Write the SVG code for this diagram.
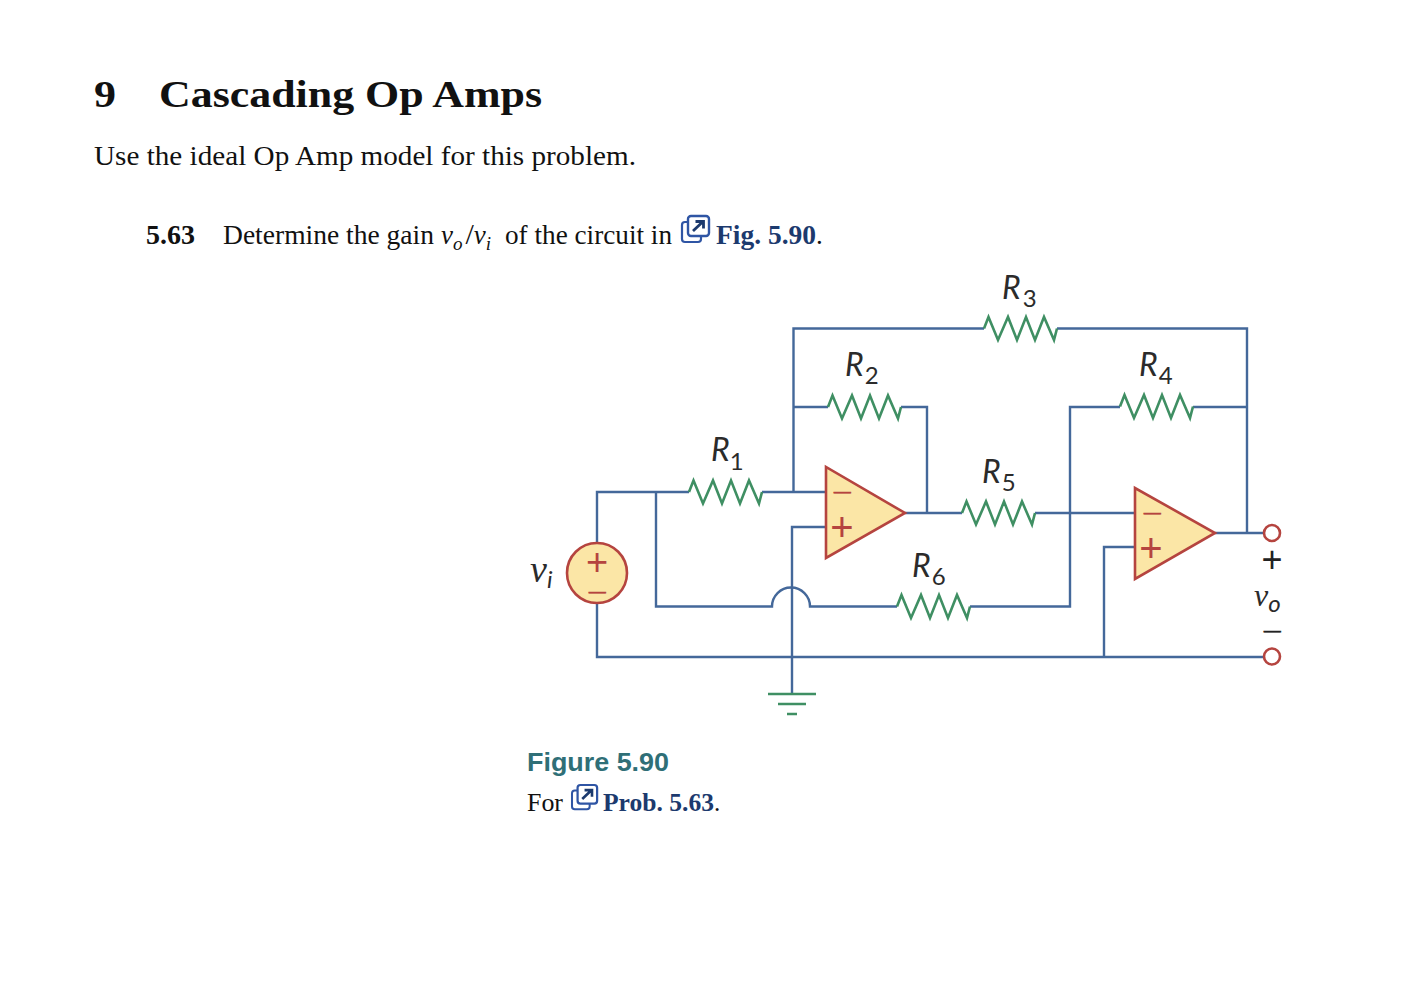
<svg xmlns="http://www.w3.org/2000/svg" width="1420" height="986" viewBox="0 0 1420 986">
<style>
.w{fill:none;stroke:#44689a;stroke-width:2.4;stroke-linejoin:miter}
.r{fill:none;stroke:#3f8f63;stroke-width:2.6;stroke-linejoin:miter}
.g{fill:none;stroke:#3f8f63;stroke-width:2.6}
.a{fill:#fbe6a6;stroke:#b5443f;stroke-width:2.6;stroke-linejoin:miter}
.t{fill:#fff;stroke:#b5443f;stroke-width:2.6}
.s{font-family:"Liberation Serif",serif;fill:#111}
.lm{font-size:27px}
.b{font-weight:700}
.n{fill:#1c3a6e}
.lab{font-family:Lato,"Open Sans",sans-serif;font-style:italic;font-size:32px;fill:#2b2b2b}
.sub{font-family:Lato,"Open Sans",sans-serif;font-style:normal;font-size:24px;fill:#2b2b2b}
.v{font-family:"Liberation Serif",serif;font-style:italic;font-size:32px;fill:#2b2b2b}
.vs{font-family:Lato,"Open Sans",sans-serif;font-style:italic;font-size:24px}
.sy{font-family:"Liberation Sans",sans-serif;text-anchor:middle}
.rs{fill:#b5443f}
.bk{fill:#222}
.mn{font-size:16px;stroke-width:.5px}
.mn.rs{stroke:#b5443f}
.mn.bk{stroke:#222}
.ic{fill:none;stroke:#2f55a4;stroke-width:2.2}
</style>
<defs>
<path id="res" class="r" d="M0,0 L4.500,-11.500 L14,11.500 L24,-11.500 L33,11.500 L42,-11.500 L51,11.500 L60,-11.500 L70,11.500 L73,0"/>
<g id="icon">
<rect class="ic" x="0" y="6" width="19" height="20" rx="3"/>
<rect x="6" y="0" width="21" height="20" rx="3" fill="#fff" stroke="#2f55a4" stroke-width="2.400"/>
<path d="M11,15 L20,6.500 M13.500,5.500 L21.500,5.500 L21.500,12.500" fill="none" stroke="#1c3a6e" stroke-width="2.800"/>
</g>
</defs>
<rect width="1420" height="986" fill="#fff"/>

<g id="heading">
<text class="s b" x="94" y="107" font-size="38" textLength="22" lengthAdjust="spacingAndGlyphs">9</text>
<text class="s b" x="159" y="107" font-size="38" textLength="383" lengthAdjust="spacingAndGlyphs">Cascading Op Amps</text>
<text class="s lm" x="94" y="165" textLength="542" lengthAdjust="spacingAndGlyphs">Use the ideal Op Amp model for this problem.</text>
</g>
<g id="problem">
<text class="s lm b" x="146" y="244" textLength="49" lengthAdjust="spacingAndGlyphs">5.63</text>
<text class="s lm" x="223" y="244" textLength="211" lengthAdjust="spacingAndGlyphs">Determine the gain</text>
<text class="s lm" x="441" y="244" font-style="italic">v<tspan font-size="19" dy="6">o</tspan><tspan dx="3" dy="-6" font-size="30" font-style="normal">/</tspan>v<tspan font-size="19" dy="6">i</tspan></text>
<text class="s lm" x="505" y="244" textLength="167" lengthAdjust="spacingAndGlyphs">of the circuit in</text>
<use href="#icon" x="682" y="216"/>
<text class="s lm b n" x="716" y="244" textLength="100" lengthAdjust="spacingAndGlyphs">Fig. 5.90</text>
<text class="s lm" x="816" y="244">.</text>
</g>

<g id="connectors">
<path class="w" d="M597,543 V492 H689"/>
<path class="w" d="M762,492 H826"/>
<path class="w" d="M656,492 V606.500 H772 A19,19 0 0 1 810,606.500 H897"/>
<path class="w" d="M793.500,492 V328.500 H984"/>
<path class="w" d="M1057,328.500 H1247 V533"/>
<path class="w" d="M793.500,407 H828"/>
<path class="w" d="M901,407 H927 V513"/>
<path class="w" d="M905,513 H962"/>
<path class="w" d="M1035,513 H1135"/>
<path class="w" d="M1120,407 H1070 V606.500 H970"/>
<path class="w" d="M1193,407 H1247"/>
<path class="w" d="M1215,533 H1264"/>
<path class="w" d="M597,603 V657 H1264"/>
<path class="w" d="M826,527 H792 V694"/>
<path class="w" d="M1135,547 H1104 V657"/>
</g>

<g id="R1"><use href="#res" x="689" y="492"/><text class="lab" x="711" y="461">R<tspan class="sub" dx="0" dy="9">1</tspan></text></g>
<g id="R2"><use href="#res" x="828" y="407"/><text class="lab" x="845" y="376">R<tspan class="sub" dx="1" dy="8">2</tspan></text></g>
<g id="R3"><use href="#res" x="984" y="328.500"/><text class="lab" x="1002" y="299">R<tspan class="sub" dx="2" dy="8">3</tspan></text></g>
<g id="R4"><use href="#res" x="1120" y="406.500"/><text class="lab" x="1139" y="376">R<tspan class="sub" dx="1" dy="8">4</tspan></text></g>
<g id="R5"><use href="#res" x="962" y="513"/><text class="lab" x="982" y="483">R<tspan class="sub" dx="1" dy="8">5</tspan></text></g>
<g id="R6"><use href="#res" x="897" y="606.500"/><text class="lab" x="912" y="577">R<tspan class="sub" dx="1" dy="8">6</tspan></text></g>

<g id="opamp1">
<polygon class="a" points="826,467 826,558 905,513"/>
<text class="sy rs mn" x="842" y="498" textLength="20" lengthAdjust="spacingAndGlyphs">−</text>
<text class="sy rs" x="842" y="541" font-size="40">+</text>
</g>
<g id="opamp2">
<polygon class="a" points="1135,488 1135,579 1215,533"/>
<text class="sy rs mn" x="1152" y="519" textLength="20" lengthAdjust="spacingAndGlyphs">−</text>
<text class="sy rs" x="1151" y="562" font-size="40">+</text>
</g>
<g id="vi">
<circle class="a" cx="597" cy="573" r="30"/>
<text class="sy rs" x="597" y="574.500" font-size="38">+</text>
<text class="sy rs mn" x="597" y="597.500" textLength="20" lengthAdjust="spacingAndGlyphs">−</text>
<text class="v" x="530" y="582" style="font-size:38px">v<tspan class="vs" dy="6">i</tspan></text>
</g>
<g id="ground">
<path class="g" d="M768,694 H816 M778,704 H806 M787,714 H797"/>
</g>
<g id="vo">
<circle class="t" cx="1272" cy="533" r="8"/>
<circle class="t" cx="1272" cy="656.500" r="8"/>
<text class="sy bk" x="1272" y="571.500" font-size="36">+</text>
<text class="v" x="1254" y="606">v<tspan class="vs" dy="6" dx="0">o</tspan></text>
<text class="sy bk mn" x="1272" y="637" textLength="20" lengthAdjust="spacingAndGlyphs">−</text>
</g>

<g id="caption">
<text x="527" y="771" font-family="Liberation Sans,sans-serif" font-weight="700" font-size="25" fill="#2f6f77" textLength="142" lengthAdjust="spacingAndGlyphs">Figure 5.90</text>
<text class="s" x="527" y="811" font-size="25" textLength="36" lengthAdjust="spacingAndGlyphs">For</text>
<use href="#icon" transform="translate(572,785) scale(.93)"/>
<text class="s b n" x="603" y="811" font-size="25" textLength="111" lengthAdjust="spacingAndGlyphs">Prob. 5.63</text>
<text class="s" x="714" y="811" font-size="25">.</text>
</g>
</svg>
